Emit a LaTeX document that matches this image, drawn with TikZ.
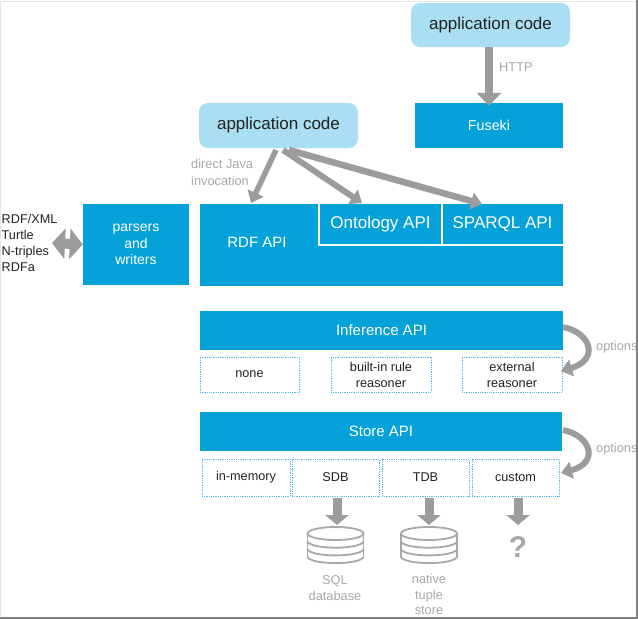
\documentclass[tikz,border=0pt]{standalone}
\usepackage{fontspec}
\setmainfont{Liberation Sans}
\usetikzlibrary{arrows.meta}
\definecolor{jblue}{HTML}{05A1D9}
\definecolor{jlight}{HTML}{AADEF2}
\definecolor{jgray}{HTML}{9C9C9C}
\definecolor{jtext}{HTML}{A8A8A8}
\definecolor{jdot}{HTML}{55BDE8}
\definecolor{jdark}{HTML}{222222}
\begin{document}
\begin{tikzpicture}[x=1pt,y=-1pt,
  bluebox/.style={fill=jblue,text=white,inner sep=0pt,draw=none,align=center},
  appbox/.style={fill=jlight,rounded corners=9pt,text=jdark,font=\fontsize{17}{20}\selectfont,inner sep=0pt},
  optbox/.style={draw=jdot,densely dotted,line width=0.8pt,fill=white,align=center,font=\fontsize{12.7}{16}\selectfont,text=jdark,inner sep=0pt},
  graytext/.style={text=jtext,font=\fontsize{12.8}{16.3}\selectfont,inner sep=0pt},
  fat/.style={draw=jgray,line width=6pt,-{Triangle[width=17pt,length=11pt]}},
  downfat/.style={draw=jgray,line width=9pt,-{Triangle[width=23pt,length=10pt]}},
  dbline/.style={draw=jtext,line width=1.8pt},
  sepline/.style={draw=white,line width=1.5pt},
  dbstack/.pic={
    \fill[white] (-28,0) -- (-28,23.1) arc[start angle=180,end angle=360,x radius=28pt,y radius=6.5pt] -- (28,0) -- cycle;
    \draw[dbline] (0,0) ellipse [x radius=28pt,y radius=6.5pt];
    \foreach \k in {1,2,3} \draw[dbline] (-28,7.7*\k) arc[start angle=180,end angle=360,x radius=28pt,y radius=6.5pt];
    \draw[dbline] (-28,0) -- (-28,23.1) (28,0) -- (28,23.1);
  }
]
\useasboundingbox (0,0) rectangle (638,619);
\clip (0,0) rectangle (638,619);
\fill[white] (0,0) rectangle (638,619);

% top: Fuseki
\node[appbox,minimum width=159pt,minimum height=44pt] (app2) at (490.5,25) {application code};
\node[bluebox,minimum width=148pt,minimum height=45pt,font=\fontsize{14.3}{17}\selectfont] (fuseki) at (489,125.5) {Fuseki};
\draw[draw=jgray,line width=8pt,-{Triangle[width=24pt,length=13pt]}] (app2.south -| fuseki.north) -- ([yshift=-3pt]fuseki.north);
\node[graytext,anchor=west] (http) at (499,67) {HTTP};

% middle application code
\node[appbox,minimum width=159pt,minimum height=45pt] (app1) at (278.5,125.5) {application code};
\node[graytext,anchor=west,align=left] (djava) at (191,172.5) {direct Java\\invocation};

% parsers
\node[bluebox,minimum width=106pt,minimum height=81pt,font=\fontsize{14}{16.5}\selectfont] (parsers) at (136,244.5) {parsers\\and\\writers};
\node[anchor=west,align=left,inner sep=0pt,font=\fontsize{12.7}{16.3}\selectfont,text=jdark] (formats) at (1.5,243) {RDF/XML\\Turtle\\N-triples\\RDFa};
\coordinate (fmtend) at (52,243);
\draw[draw=jgray,line width=10pt,{Triangle[width=30pt,length=13pt]}-{Triangle[width=30pt,length=13pt]}] (fmtend) -- (parsers.west);

% RDF API block
\node[bluebox,minimum width=363pt,minimum height=82pt] (rdfblock) at (381.5,245) {};
\node[text=white,inner sep=0pt,font=\fontsize{15}{18}\selectfont] (rdf) at (257,242) {RDF API};
\node[bluebox,minimum width=123pt,minimum height=41pt,font=\fontsize{17}{20}\selectfont] (onto) at (380.5,224.5) {Ontology API};
\node[bluebox,minimum width=121pt,minimum height=41pt,font=\fontsize{17}{20}\selectfont] (sparql) at (502.5,224.5) {SPARQL API};
\draw[sepline] (onto.north west) -- (onto.south west) -- (sparql.south east);
\draw[sepline] (sparql.north west) -- (sparql.south west);

% java arrows
\coordinate (jsrc1) at (276,150);
\coordinate (jsrc2) at (283,150);
\coordinate (jsrc3) at (289,150);
\coordinate (rdftip) at (251,203);
\coordinate (ontotip) at (362,203);
\coordinate (sparqltip) at (482,204);
\draw[fat,line width=5.5pt] (jsrc1) -- (rdftip);
\draw[fat] (jsrc2) -- (ontotip);
\draw[fat,line width=6.5pt] (jsrc3) -- (sparqltip);

% Inference API
\node[bluebox,minimum width=363pt,minimum height=39pt,font=\fontsize{15}{18}\selectfont] (inf) at (381.5,330.5) {Inference API};
\node[optbox,minimum width=99pt,minimum height=35pt] (none) at (249.5,374.5) {none};
\node[optbox,minimum width=100pt,minimum height=35pt] (builtin) at (381,374.5) {built-in rule\\reasoner};
\node[optbox,minimum width=100pt,minimum height=35pt] (external) at (512,374.5) {external\\reasoner};
\coordinate (infout) at (563,327);
\coordinate (extin) at (561,371);
\draw[fat] (infout) .. controls (592,333) and (599,360) .. (extin);
\node[graytext,anchor=west] (opt1) at (596,347) {options};

% Store API
\node[bluebox,minimum width=362pt,minimum height=39pt,font=\fontsize{15}{18}\selectfont] (store) at (381,431.5) {Store API};
\node[optbox,minimum width=88pt,minimum height=37pt] (inmem) at (246,477.5) {in-memory};
\node[optbox,minimum width=87pt,minimum height=37pt] (sdb) at (335.5,477.5) {SDB};
\node[optbox,minimum width=87pt,minimum height=37pt] (tdb) at (425.5,477.5) {TDB};
\node[optbox,minimum width=87pt,minimum height=37pt] (custom) at (515.5,477.5) {custom};
\coordinate (storeout) at (563,430);
\coordinate (customin) at (561,473);
\draw[fat] (storeout) .. controls (592,436) and (599,463) .. (customin);
\node[graytext,anchor=west] (opt2) at (596,449) {options};

% back ends
\coordinate (sqltop) at (337,525);
\coordinate (tupletop) at (429,525);
\coordinate (qtop) at (518,525);
\draw[downfat] ([xshift=1.5pt,yshift=-2pt]sdb.south) -- (sqltop);
\draw[downfat] ([xshift=3.5pt,yshift=-2pt]tdb.south) -- (tupletop);
\draw[downfat] ([xshift=2.5pt,yshift=-2pt]custom.south) -- (qtop);
\pic at (335.5,533.5) {dbstack};
\pic at (429,533.5) {dbstack};
\node[text=jtext,inner sep=0pt,font=\bfseries\fontsize{30}{30}\selectfont] (qmark) at (518,547) {?};
\node[graytext,align=center] (sqltxt) at (335,588) {SQL\\database};
\node[graytext,align=center,font=\fontsize{12.8}{15.2}\selectfont] (tupletxt) at (429,594.5) {native\\tuple\\store};

% frame
\draw[draw=black!10,line width=1pt] (0.5,619) -- (0.5,1) -- (636,1);
\draw[draw=black!50,line width=2pt] (636.5,0) -- (636.5,617.5) -- (0,617.5);
\end{tikzpicture}
\end{document}
